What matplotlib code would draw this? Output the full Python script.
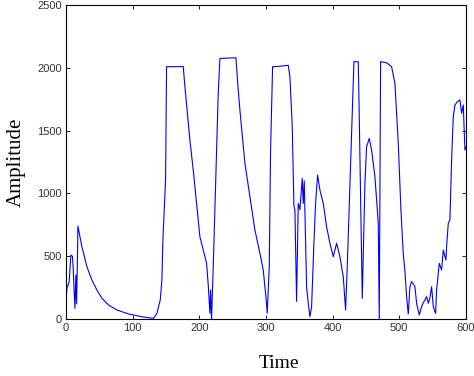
import matplotlib
matplotlib.use("Agg")
import matplotlib.pyplot as plt

time = [0, 2, 3.5, 5, 7.5, 9.75, 11, 13.5, 15, 16, 17.5, 18, 24, 31.5, 39, 46.5, 54, 64,
        76.5, 94, 114, 131.5, 136.5, 141.5, 144, 145.5, 149.5, 151,
        176, 178.5, 186, 191, 196, 201, 206, 211, 213.5, 216, 217, 218.5, 221, 226, 228.5,
        231, 255, 258.5, 261, 268.5, 276, 283.5, 291, 296, 300, 302, 305, 307, 310, 320,
        333.5, 336, 339.5, 342, 343.5, 346, 348.5, 351, 354.5, 356, 357.5, 361,
        363.5, 366, 368.5, 372, 374.5, 377.5, 381, 386, 391, 396, 401, 403.5, 406, 411,
        416, 419.5,
        422, 426, 428.5, 432, 438.5, 440, 442.5, 444.5, 446, 448.5, 451, 455, 458.5, 463.5,
        468.5, 470, 472, 481, 488.5, 493.5, 498.5, 502.5, 506, 508.5, 511, 513.5, 516,
        518.5, 521, 523.5, 526, 530, 533.5, 536, 538.5, 541, 543.5, 546, 548.5, 551, 554.5,
        556, 560, 563.5, 566, 570, 571, 573.5, 576, 578.5, 581, 583.5, 587, 591, 593.5,
        596, 598.5, 600]
amplitude = [150, 260, 270, 300, 510, 500, 400, 85, 350, 120, 530, 740, 576, 417, 310, 231,
             165, 111, 72, 40, 18, 5, 45, 151, 310, 630,
             1107, 2009, 2010, 1850, 1425, 1186, 921, 655, 549, 445, 270, 47, 230, 0, 417,
             1345, 1797, 2075, 2080, 1823, 1664, 1240, 974, 708, 524, 390, 178, 47, 417,
             1345, 2009, 2012, 2020, 1930, 1531, 900, 868, 140, 920, 870, 1120, 920, 1100,
             257, 125, 18, 98, 603, 920, 1146, 1027, 921, 735, 603, 496, 549, 603, 496,
             337, 72,
             417, 1080, 1478, 2049, 2049, 1611, 815, 165, 496, 1080, 1372, 1438, 1345,
             1133, 762, 0, 2049, 2040, 2009, 1876, 1399, 868, 520, 380, 178, 40, 257, 297,
             280, 257, 125, 32, 98, 130, 151, 178, 125, 170, 257, 98, 45, 231, 443, 390, 549,
             470, 576, 762, 789, 1266, 1611, 1704, 1730, 1744, 1638, 1704, 1345, 1370]

xticks = [0, 100, 200, 300, 400, 500, 600]
yticks = [0, 500, 1000, 1500, 2000, 2500]

fig = plt.figure(figsize=(4.74, 3.76), dpi=100)
ax = fig.add_axes([0.139, 0.1516, 0.844, 0.835])
ax.plot(time, amplitude, color="#0000ff", lw=0.8)
ax.set_xlim(0, 600)
ax.set_ylim(0, 2500)
ax.set_xticks(xticks)
ax.set_yticks(yticks)
ax.tick_params(direction="in", top=True, right=True, length=3, width=0.6,
               labelsize=8, colors="black", labelcolor="#333333", pad=3)
for lab in ax.get_xticklabels() + ax.get_yticklabels():
    lab.set_family("Liberation Sans")
for s in ax.spines.values():
    s.set_linewidth(0.8)
ax.set_xlabel("Time", family="Liberation Serif", fontsize=14)
ax.xaxis.set_label_coords(0.533, -0.115)
ax.set_ylabel("Amplitude", family="Liberation Serif", fontsize=15, labelpad=8)
fig.savefig("out.png", dpi=100)
